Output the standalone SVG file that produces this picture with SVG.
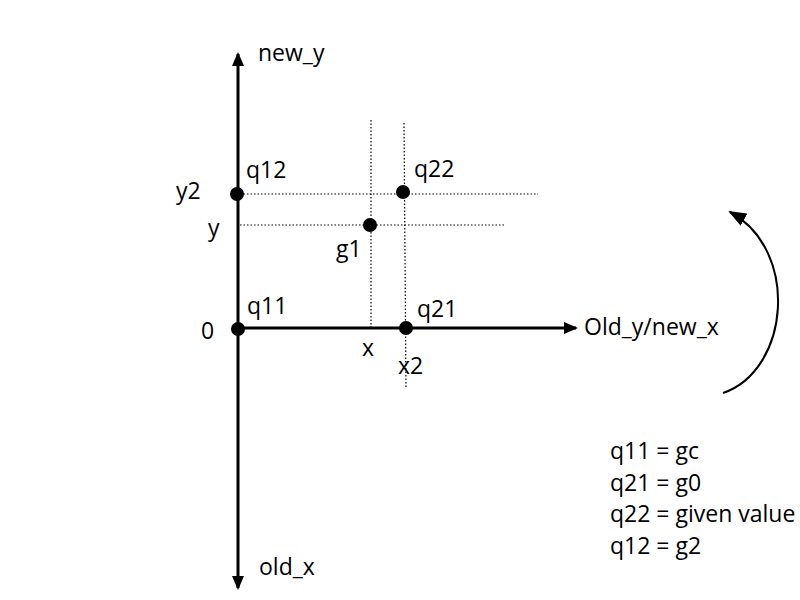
<svg xmlns="http://www.w3.org/2000/svg" width="800" height="600" viewBox="0 0 800 600">
<style>
text{font-family:"Open Sans","Liberation Sans",sans-serif;font-size:23px;fill:#000}
.ax{stroke:#000;stroke-width:3;fill:none}
.dot{stroke:#000;stroke-width:1.2;stroke-dasharray:1.5 2;fill:none}
.pt{fill:#000}
</style>
<defs>
<marker id="ah" markerWidth="14" markerHeight="12" refX="12" refY="6" orient="auto" markerUnits="userSpaceOnUse">
<path d="M0,0 L14,6 L0,12 z" fill="#000"/>
</marker>
<marker id="ah2" markerWidth="18" markerHeight="14" refX="16" refY="7" orient="auto" markerUnits="userSpaceOnUse">
<path d="M0,0 L18,7 L0,14 z" fill="#000"/>
</marker>
</defs>
<g id="connectors">
<line class="ax" x1="238" y1="300" x2="238" y2="54" marker-end="url(#ah)"/>
<line class="ax" x1="238" y1="300" x2="238" y2="588" marker-end="url(#ah)"/>
<line class="ax" x1="238" y1="328" x2="576" y2="328" marker-end="url(#ah)"/>
<line class="dot" x1="371" y1="120" x2="371" y2="328"/>
<line class="dot" x1="404" y1="123" x2="406" y2="388"/>
<line class="dot" x1="240" y1="194" x2="538" y2="194"/>
<line class="dot" x1="240" y1="225" x2="505" y2="225"/>
<path d="M723,393 C790,370 800,250 730,212" stroke="#000" stroke-width="2" fill="none" marker-end="url(#ah2)"/>
</g>
<g id="q12"><circle class="pt" cx="237" cy="194" r="7"/><text x="246" y="178">q12</text></g>
<g id="q22"><circle class="pt" cx="403" cy="192" r="7"/><text x="414" y="177">q22</text></g>
<g id="g1"><circle class="pt" cx="370" cy="225" r="7"/><text x="336" y="257">g1</text></g>
<g id="q11"><circle class="pt" cx="238" cy="329" r="7"/><text x="247" y="314">q11</text></g>
<g id="q21"><circle class="pt" cx="406" cy="328" r="7"/><text x="417" y="317">q21</text></g>
<g id="labels">
<text x="258" y="61">new_y</text>
<text x="176" y="199">y2</text>
<text x="208" y="236">y</text>
<text x="201" y="339">0</text>
<text x="584" y="335">Old_y/new_x</text>
<text x="362" y="356">x</text>
<text x="398" y="374">x2</text>
<text x="259" y="575">old_x</text>
<text x="610" y="459">q11 = gc</text>
<text x="610" y="491">q21 = g0</text>
<text x="610" y="522">q22 = given value</text>
<text x="610" y="554">q12 = g2</text>
</g>
</svg>
